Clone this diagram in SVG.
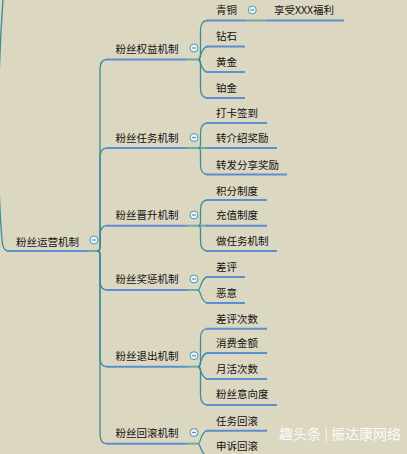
<svg xmlns="http://www.w3.org/2000/svg" width="407" height="454" viewBox="0 0 407 454">
<style>
text{font-family:"Noto Sans CJK SC","Noto Sans",sans-serif;font-size:10.5px;fill:#111}
.ul{stroke:#5b8ed2;stroke-width:2;fill:none}
.tl{stroke:#6fa9a6;stroke-width:2;fill:none}
.cn{stroke:#3a8d9e;stroke-width:1.3;fill:none}
.ci{fill:#eef3f4;stroke:#4a9bad;stroke-width:1}
.mi{stroke:#5b8ed2;stroke-width:1.2}
.wm{font-size:14px;fill:#ffffff;fill-opacity:0.9}
</style>
<rect width="407" height="454" fill="#dcd7c1"/>
<g id="connectors">
<path class="cn" d="M3,0 C-3,80 -3,180 2,240 Q3,251 8,251"/>
<line class="tl" x1="87" y1="251" x2="97" y2="251"/>
<path class="cn" d="M97,251 Q100,251 100,247 L100,70 C100,63 102,59.5 107,59.5"/>
<path class="cn" d="M97,251 Q100,251 100,247 L100,158 C100,151 102,148 107,148"/>
<path class="cn" d="M97,251 Q100,251 100,247 L100,236 C100,229 102,225.7 107,225.7"/>
<path class="cn" d="M97,251 Q100,251 100,255 L100,280 C100,287 102,290 107,290"/>
<path class="cn" d="M97,251 Q100,251 100,255 L100,356.7 C100,363.7 102,366.7 107,366.7"/>
<path class="cn" d="M97,251 Q100,251 100,255 L100,433.7 C100,440.7 102,443.7 107,443.7"/>
<line class="tl" x1="187" y1="59.5" x2="198" y2="59.5"/>
<line class="tl" x1="187" y1="148" x2="198" y2="148"/>
<line class="tl" x1="187" y1="225.7" x2="198" y2="225.7"/>
<line class="tl" x1="187" y1="290" x2="198" y2="290"/>
<line class="tl" x1="187" y1="366.7" x2="198" y2="366.7"/>
<line class="tl" x1="187" y1="443.7" x2="198" y2="443.7"/>
<path class="cn" d="M198,59.5 Q200.5,59.5 200.5,56 L200.5,30.5 C200.5,24 203,20.5 208,20.5"/>
<path class="cn" d="M198,59.5 C201,59.5 200.5,46.5 208,46.5"/>
<path class="cn" d="M198,59.5 C201,59.5 200.5,72 208,72"/>
<path class="cn" d="M198,59.5 Q200.5,59.5 200.5,63 L200.5,88 C200.5,94.5 203,98 208,98"/>
<path class="cn" d="M198,148 Q200.5,148 200.5,144.5 L200.5,133 C200.5,126.5 203,123 208,123"/>
<path class="tl" d="M198,148 L208,148"/>
<path class="cn" d="M198,148 Q200.5,148 200.5,151.5 L200.5,164.5 C200.5,171 203,174.5 208,174.5"/>
<path class="cn" d="M198,225.7 Q200.5,225.7 200.5,222 L200.5,210 C200.5,203.5 203,200 208,200"/>
<path class="tl" d="M198,225.7 L208,225.7"/>
<path class="cn" d="M198,225.7 Q200.5,225.7 200.5,229 L200.5,241 C200.5,247.5 203,251 208,251"/>
<path class="cn" d="M198,290 C201,290 200.5,277 208,277"/>
<path class="cn" d="M198,290 C201,290 200.5,303 208,303"/>
<path class="cn" d="M198,366.7 Q200.5,366.7 200.5,363 L200.5,338.7 C200.5,332 203,328.7 208,328.7"/>
<path class="cn" d="M198,366.7 C201,366.7 200.5,353 208,353"/>
<path class="cn" d="M198,366.7 C201,366.7 200.5,379 208,379"/>
<path class="cn" d="M198,366.7 Q200.5,366.7 200.5,370 L200.5,395 C200.5,401.5 203,405 208,405"/>
<path class="cn" d="M198,443.7 C201,443.7 200.5,430.7 208,430.7"/>
<path class="cn" d="M198,443.7 C201,443.7 200.5,456 208,456"/>
<line class="tl" x1="245" y1="20.5" x2="266" y2="20.5"/>
</g>
<g id="root">
<text x="16" y="246">粉丝运营机制</text>
<line class="ul" x1="7" y1="251" x2="87" y2="251"/>
<circle class="ci" cx="94" cy="240" r="4"/><line class="mi" x1="92" y1="240" x2="96" y2="240"/>
</g>
<g id="n-quanyi">
<text x="115.5" y="53">粉丝权益机制</text>
<line class="ul" x1="106" y1="59.5" x2="187" y2="59.5"/>
<circle class="ci" cx="194" cy="48" r="4"/><line class="mi" x1="192" y1="48" x2="196" y2="48"/>
</g>
<g id="n-renwu">
<text x="115.5" y="142">粉丝任务机制</text>
<line class="ul" x1="106" y1="148" x2="187" y2="148"/>
<circle class="ci" cx="194" cy="137.5" r="4"/><line class="mi" x1="192" y1="137.5" x2="196" y2="137.5"/>
</g>
<g id="n-jinsheng">
<text x="115.5" y="219">粉丝晋升机制</text>
<line class="ul" x1="106" y1="225.7" x2="187" y2="225.7"/>
<circle class="ci" cx="194" cy="215" r="4"/><line class="mi" x1="192" y1="215" x2="196" y2="215"/>
</g>
<g id="n-jiangcheng">
<text x="115.5" y="283">粉丝奖惩机制</text>
<line class="ul" x1="106" y1="290" x2="187" y2="290"/>
<circle class="ci" cx="194" cy="279" r="4"/><line class="mi" x1="192" y1="279" x2="196" y2="279"/>
</g>
<g id="n-tuichu">
<text x="115.5" y="360">粉丝退出机制</text>
<line class="ul" x1="106" y1="366.7" x2="187" y2="366.7"/>
<circle class="ci" cx="194" cy="355.7" r="4"/><line class="mi" x1="192" y1="355.7" x2="196" y2="355.7"/>
</g>
<g id="n-huigun">
<text x="115.5" y="437">粉丝回滚机制</text>
<line class="ul" x1="106" y1="443.7" x2="187" y2="443.7"/>
<circle class="ci" cx="194" cy="432.5" r="4"/><line class="mi" x1="192" y1="432.5" x2="196" y2="432.5"/>
</g>
<g id="n-qingtong">
<text x="216" y="14">青铜</text>
<line class="ul" x1="206" y1="20.5" x2="245" y2="20.5"/>
<circle class="ci" cx="252.3" cy="10" r="4"/><line class="mi" x1="250.3" y1="10" x2="254.3" y2="10"/>
</g>
<g id="n-xiangshou">
<text x="274" y="14">享受XXX福利</text>
<line class="ul" x1="266" y1="20.5" x2="344" y2="20.5"/>
</g>
<g id="n-zuanshi"><text x="216" y="40">钻石</text><line class="ul" x1="206" y1="46.5" x2="245" y2="46.5"/></g>
<g id="n-huangjin"><text x="216" y="66">黄金</text><line class="ul" x1="206" y1="72" x2="245" y2="72"/></g>
<g id="n-bojin"><text x="216" y="92">铂金</text><line class="ul" x1="206" y1="98" x2="245" y2="98"/></g>
<g id="n-daka"><text x="216" y="117">打卡签到</text><line class="ul" x1="206" y1="123" x2="267" y2="123"/></g>
<g id="n-zhuanjieshao"><text x="216" y="142">转介绍奖励</text><line class="ul" x1="206" y1="148" x2="277" y2="148"/></g>
<g id="n-zhuanfa"><text x="216" y="169">转发分享奖励</text><line class="ul" x1="206" y1="174.5" x2="287" y2="174.5"/></g>
<g id="n-jifen"><text x="216" y="195">积分制度</text><line class="ul" x1="206" y1="200" x2="267" y2="200"/></g>
<g id="n-chongzhi"><text x="216" y="219">充值制度</text><line class="ul" x1="206" y1="225.7" x2="267" y2="225.7"/></g>
<g id="n-zuorenwu"><text x="216" y="245">做任务机制</text><line class="ul" x1="206" y1="251" x2="277" y2="251"/></g>
<g id="n-chaping"><text x="216" y="271">差评</text><line class="ul" x1="206" y1="277" x2="245" y2="277"/></g>
<g id="n-eyi"><text x="216" y="297">恶意</text><line class="ul" x1="206" y1="303" x2="245" y2="303"/></g>
<g id="n-chapingcishu"><text x="216" y="323">差评次数</text><line class="ul" x1="206" y1="328.7" x2="267" y2="328.7"/></g>
<g id="n-xiaofei"><text x="216" y="347">消费金额</text><line class="ul" x1="206" y1="353" x2="267" y2="353"/></g>
<g id="n-yuehuo"><text x="216" y="373">月活次数</text><line class="ul" x1="206" y1="379" x2="267" y2="379"/></g>
<g id="n-yixiang"><text x="216" y="398">粉丝意向度</text><line class="ul" x1="206" y1="405" x2="277" y2="405"/></g>
<g id="n-renwuhuigun"><text x="216" y="425">任务回滚</text><line class="ul" x1="206" y1="430.7" x2="267" y2="430.7"/></g>
<g id="n-shensu"><text x="216" y="450">申诉回滚</text><line class="ul" x1="206" y1="456" x2="267" y2="456"/></g>
<text class="wm" x="279" y="439">趣头条 | 振达康网络</text>
</svg>
